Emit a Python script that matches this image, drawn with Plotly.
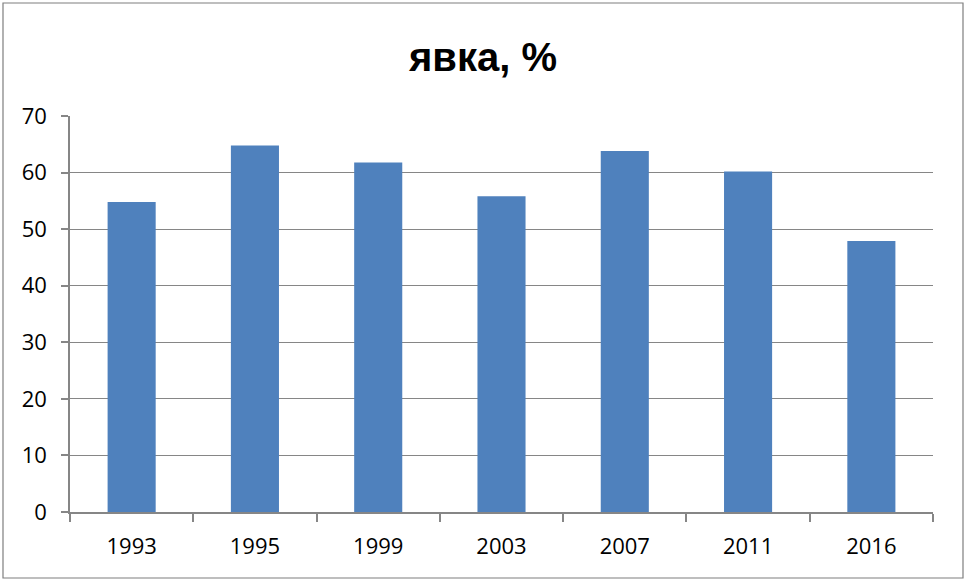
import plotly.graph_objects as go

# Явка на выборах в Госдуму, %
years = ['1993', '1995', '1999', '2003', '2007', '2011', '2016']
turnout = [54.8, 64.8, 61.8, 55.8, 63.8, 60.2, 47.9]
y_ticks = [0, 10, 20, 30, 40, 50, 60, 70]

W, H = 966, 582
ml, mr, mt, mb = 70, 33, 116, 70
pw, ph = W - ml - mr, H - mt - mb

fig = go.Figure(go.Bar(
    x=years,
    y=turnout,
    marker_color='#4F81BD',
    marker_line_width=0,
    width=0.39))

# outer frame of the chart
fig.add_shape(type='rect', xref='paper', yref='paper',
              x0=(3 - ml) / pw, x1=(963 - ml) / pw,
              y0=(H - mb - 578) / ph, y1=(H - mb - 3) / ph,
              line=dict(color='#7f7f7f', width=1.2), layer='below')

fig.update_layout(
    width=W, height=H,
    margin=dict(l=ml, r=mr, t=mt, b=mb),
    paper_bgcolor='white', plot_bgcolor='white',
    showlegend=False,
    title=dict(text='<b>явка, %</b>', x=0.5, xanchor='center',
               y=1 - 57 / H, yanchor='middle',
               font=dict(family='Liberation Sans, Arial', size=40, color='black')),
    font=dict(family='Open Sans, DejaVu Sans', size=22, color='black'),
    xaxis=dict(type='category', showline=True, linecolor='#868686', linewidth=1.5,
               ticks='outside', tickson='boundaries', ticklen=8,
               tickcolor='#868686', tickwidth=1.5, showgrid=False, ticklabelstandoff=14),
    yaxis=dict(range=[0, 70], tickvals=y_ticks, showline=True, linecolor='#868686',
               linewidth=1.5, ticks='outside', ticklen=7, tickcolor='#868686',
               tickwidth=1.5, showgrid=True, gridcolor='#868686', gridwidth=1.3,
               zeroline=False, ticklabelstandoff=10),
)

fig.write_html("out.html", config={'displayModeBar': False},
               post_script="document.body.style.margin='0px';")
